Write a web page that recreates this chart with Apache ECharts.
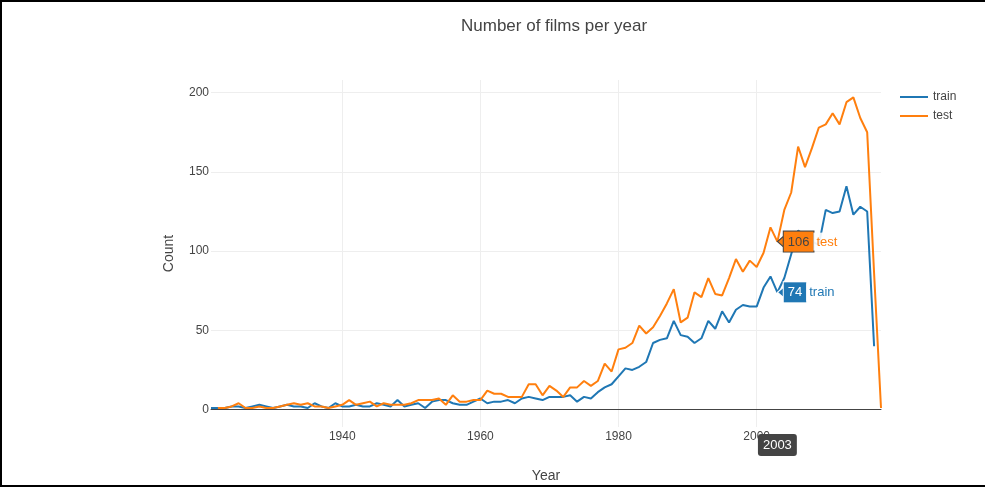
<!DOCTYPE html>
<html>
<head>
<meta charset="utf-8">
<script src="https://cdn.jsdelivr.net/npm/echarts@6/dist/echarts.min.js"></script>
<style>
html,body{margin:0;padding:0;background:#fff;overflow:hidden;}
#wrap{position:relative;width:985px;height:487px;}
#chart{position:absolute;left:0;top:0;width:985px;height:487px;}
#frame{position:absolute;left:0;top:0;width:985px;height:487px;box-sizing:border-box;border-left:2px solid #000;border-top:2px solid #000;border-bottom:2px solid #000;pointer-events:none;}
</style>
</head>
<body>
<div id="wrap"><div id="chart"></div><div id="frame"></div></div>
<script>
// Categories: years 1921..2018
const years = [];
for (let y = 1921; y <= 2018; y++) years.push(String(y));

// train counts, 1921..2017 (no 2018 value)
const train = [
  1,1,1,2,2,1,2,3,2,1,
  2,3,2,2,1,4,2,1,4,2,
  2,3,2,2,4,3,2,6,2,3,
  4,1,5,6,6,4,3,3,5,7,
  4,5,5,6,4,7,8,7,6,8,
  8,8,9,5,8,7,11,14,16,21,
  26,25,27,30,42,44,45,56,47,46,
  42,45,56,51,62,55,63,66,65,65,
  77,84,74,83,98,113,110,106,104,126,
  124,125,141,123,128,125,40,
  null
];

// test counts, 1921..2018 (no 1921 value)
const test = [
  null,1,1,2,4,1,1,2,1,1,
  2,3,4,3,4,2,2,1,2,3,
  6,3,4,5,2,4,3,3,3,4,
  6,6,6,7,3,9,5,5,6,6,
  12,10,10,8,8,8,16,16,9,15,
  12,8,14,14,18,15,18,29,24,38,
  39,42,53,48,52,59,67,76,55,58,
  74,71,83,73,72,83,95,87,94,90,
  99,115,106,126,137,166,153,165,178,180,
  187,180,194,197,184,175,86,1
];

const yTicks = [0, 50, 100, 150, 200];
const xTickYears = [1940, 1960, 1980, 2000];
const hoverYear = '2003';

const TRAIN_C = '#1f77b4';
const TEST_C = '#ff7f0e';
const FONT = '"Liberation Sans", Arial, sans-serif';
const hIdx = years.indexOf(hoverYear);

function hoverPoint(name, arr, color, textColor, borderColor, extra) {
  const v = arr[hIdx];
  const data = [{coord: [hoverYear, v], value: v}];
  if (extra) data.push(extra);
  return {
    silent: true,
    z: 10,
    symbol: 'triangle',
    symbolSize: [12, 7],
    symbolRotate: 90,
    symbolOffset: [3.5, 0],
    itemStyle: {color: color, borderColor: borderColor, borderWidth: 1},
    label: {
      show: true,
      position: 'right',
      distance: -1,
      formatter: () => '{a|' + v + '}{b|' + name + '}',
      rich: {
        a: {backgroundColor: color, color: textColor, borderColor: borderColor, borderWidth: 1,
            padding: [4, 4, 3, 4], fontSize: 13, fontFamily: FONT, lineHeight: 13},
        b: {color: color, backgroundColor: 'rgba(255,255,255,0.9)', padding: [3, 3, 2, 3],
            fontSize: 13, fontFamily: FONT, lineHeight: 13}
      }
    },
    data: data
  };
}

// small pointer arrow above the x hover label (placed through the axes, just below the zero line)
const axisArrow = {
  coord: [hoverYear, -12.9], symbol: 'triangle', symbolSize: [11, 6], symbolRotate: 0,
  symbolOffset: [0, 0], itemStyle: {color: '#444', borderWidth: 0}, label: {show: false}
};

const chart = echarts.init(document.getElementById('chart'), null, {renderer: 'canvas'});
chart.setOption({
  animation: false,
  backgroundColor: '#fff',
  textStyle: {fontFamily: FONT},
  title: {
    text: 'Number of films per year',
    left: 461, top: 18, padding: 0,
    textStyle: {fontSize: 17, fontWeight: 'normal', color: '#444', fontFamily: FONT}
  },
  legend: {
    orient: 'vertical',
    left: 900, top: 91, padding: 0,
    icon: 'rect',
    itemWidth: 28, itemHeight: 2,
    itemGap: 7,
    textStyle: {fontSize: 12, color: '#444', fontFamily: FONT},
    data: ['train', 'test']
  },
  grid: {left: 211, right: 104, top: 80, bottom: 60, containLabel: false, outerBoundsMode: 'none'},
  xAxis: {
    type: 'category',
    data: years,
    boundaryGap: false,
    name: 'Year',
    nameLocation: 'middle',
    nameGap: 42,
    nameTextStyle: {fontSize: 14, color: '#444', fontFamily: FONT},
    axisLine: {show: true, onZero: true, lineStyle: {color: '#444', width: 1}},
    axisTick: {show: false},
    axisLabel: {
      interval: (i, v) => xTickYears.indexOf(+v) >= 0,
      color: '#444', fontSize: 12, margin: 4, fontFamily: FONT
    },
    splitLine: {show: true, interval: (i, v) => xTickYears.indexOf(+v) >= 0, lineStyle: {color: '#eee', width: 1}},
    axisPointer: {
      show: true, type: 'line', value: hIdx, status: 'show', triggerTooltip: false,
      lineStyle: {opacity: 0},
      label: {show: true, backgroundColor: '#444', color: '#fff', padding: [5, 5, 4, 5],
              margin: 7, fontSize: 13, fontFamily: FONT}
    }
  },
  yAxis: {
    type: 'value',
    min: -11, max: 208,
    name: 'Count',
    nameLocation: 'middle',
    nameGap: 35,
    nameRotate: 90,
    nameTextStyle: {fontSize: 14, color: '#444', fontFamily: FONT},
    axisLine: {show: false},
    axisTick: {show: false, customValues: yTicks},
    axisLabel: {customValues: yTicks, color: '#444', fontSize: 12, margin: 2, fontFamily: FONT},
    splitLine: {show: true, lineStyle: {color: '#eee', width: 1}}
  },
  series: [
    {
      name: 'train', type: 'line', data: train, showSymbol: false, symbol: 'none',
      lineStyle: {color: TRAIN_C, width: 2}, itemStyle: {color: TRAIN_C},
      markPoint: hoverPoint('train', train, TRAIN_C, '#fff', '#fff', axisArrow)
    },
    {
      name: 'test', type: 'line', data: test, showSymbol: false, symbol: 'none',
      lineStyle: {color: TEST_C, width: 2}, itemStyle: {color: TEST_C},
      markPoint: hoverPoint('test', test, TEST_C, '#444', '#444')
    }
  ]
});
</script>
</body>
</html>
